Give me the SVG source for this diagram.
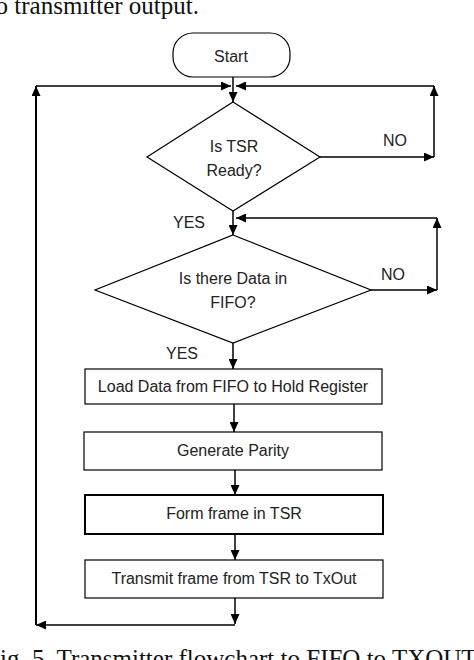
<svg xmlns="http://www.w3.org/2000/svg" width="474" height="660" viewBox="0 0 474 660">
<style>
.bg{fill:#fff}
.node{fill:#fff;stroke:#000;stroke-width:1.2}
.thick{stroke-width:2}
.lbl{font-family:"Liberation Sans","Noto Sans",sans-serif;font-size:16px;fill:#222;text-anchor:middle}
.cap{font-family:"Liberation Serif",serif;font-size:25px;fill:#111}
.c{fill:none;stroke:#000;stroke-width:1.5;marker-end:url(#ah)}
</style>
<defs>
<marker id="ah" markerUnits="userSpaceOnUse" markerWidth="10" markerHeight="9" refX="10" refY="4.5" orient="auto">
<path d="M0,0 L10,4.5 L0,9 z" fill="#000"/>
</marker>
</defs>
<rect class="bg" x="0" y="0" width="474" height="660"/>
<text class="cap" x="199" y="14" text-anchor="end">o transmitter output.</text>
<text class="cap" x="0" y="667">ig. 5. Transmitter flowchart to FIFO to TXOUT</text>

<g id="connectors">
<path class="c" d="M233,77 V102"/>
<path class="c" d="M320,157 H434"/>
<path class="c" d="M434,157 V86"/>
<path class="c" d="M434,86 H236"/>
<path class="c" d="M233,211 V235"/>
<path class="c" d="M371,290 H437"/>
<path class="c" d="M437,290 V218"/>
<path class="c" d="M437,218 H236"/>
<path class="c" d="M233,343 V369"/>
<path class="c" d="M234,404 V432"/>
<path class="c" d="M235,470 V495"/>
<path class="c" d="M235,534 V560"/>
<path class="c" d="M235,598 V624"/>
<path class="c" d="M235,625 H36"/>
<path class="c" style="stroke-width:2" d="M36,625 V86"/>
<path class="c" d="M36,86 H231"/>
</g>

<g id="start">
<rect class="node" x="173" y="33" width="117" height="44" rx="20" ry="20"/>
<text class="lbl" x="231" y="62">Start</text>
</g>

<g id="tsr-ready">
<polygon class="node" points="233,102 320,157 233,211 147,157"/>
<text class="lbl" x="234" y="152">Is TSR</text>
<text class="lbl" x="234" y="176">Ready?</text>
</g>
<text class="lbl" x="395" y="146">NO</text>
<text class="lbl" x="189" y="228">YES</text>

<g id="data-in-fifo">
<polygon class="node" points="233,235 371,290 233,343 95,290"/>
<text class="lbl" x="233" y="284">Is there Data in</text>
<text class="lbl" x="233" y="308">FIFO?</text>
</g>
<text class="lbl" x="393" y="280">NO</text>
<text class="lbl" x="182" y="359">YES</text>

<g id="load-data">
<rect class="node" x="85" y="369" width="297" height="35"/>
<text class="lbl" x="233" y="392">Load Data from FIFO to Hold Register</text>
</g>

<g id="generate-parity">
<rect class="node" x="84" y="432" width="298" height="38"/>
<text class="lbl" x="233" y="456">Generate Parity</text>
</g>

<g id="form-frame">
<rect class="node thick" x="85" y="495" width="298" height="39"/>
<text class="lbl" x="234" y="519">Form frame in TSR</text>
</g>

<g id="transmit-frame">
<rect class="node" x="85" y="560" width="298" height="38"/>
<text class="lbl" x="234" y="584">Transmit frame from TSR to TxOut</text>
</g>
</svg>
